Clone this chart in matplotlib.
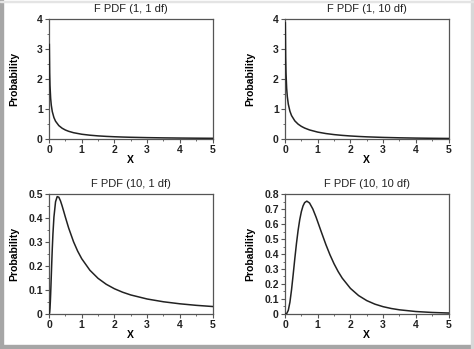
import matplotlib
matplotlib.use("Agg")
import matplotlib.pyplot as plt
from matplotlib.patches import Rectangle
from matplotlib.ticker import MultipleLocator

INK = "#222222"
FRAME = "#555555"
plt.rcParams.update({"font.family": "Liberation Sans", "font.size": 7,
                     "axes.edgecolor": FRAME, "text.color": INK,
                     "xtick.color": FRAME, "ytick.color": FRAME,
                     "xtick.labelcolor": INK, "ytick.labelcolor": INK})

# F pdf values
x_1_1 = [0.01, 0.02, 0.03, 0.05, 0.07, 0.1, 0.15, 0.2, 0.3, 0.4, 0.5, 0.6, 0.75,
         1, 1.25, 1.5, 1.75, 2, 2.25, 2.5, 3, 3.5, 4, 4.5, 5]
y_1_1 = [3.152, 2.207, 1.784, 1.356, 1.124, 0.915, 0.715, 0.593, 0.447, 0.360,
         0.300, 0.257, 0.210, 0.159, 0.127, 0.104, 0.0875, 0.075, 0.0653,
         0.0575, 0.0459, 0.0378, 0.0318, 0.0273, 0.0237]

x_1_10 = [0.01, 0.02, 0.03, 0.05, 0.07, 0.1, 0.15, 0.2, 0.3, 0.4, 0.5, 0.6, 0.75,
          1, 1.25, 1.5, 1.75, 2, 2.25, 2.5, 3, 3.5, 4, 4.5, 5]
y_1_10 = [3.870, 2.721, 2.210, 1.693, 1.415, 1.165, 0.926, 0.780, 0.604, 0.496,
          0.421, 0.365, 0.302, 0.230, 0.182, 0.147, 0.121, 0.101, 0.0850,
          0.0721, 0.0531, 0.0399, 0.0306, 0.0238, 0.0187]

x_10_1 = [0, 0.01, 0.02, 0.03, 0.04, 0.05, 0.06, 0.07, 0.08, 0.09, 0.1, 0.12,
          0.15, 0.2, 0.25, 0.3, 0.35, 0.4, 0.45, 0.5, 0.6, 0.75, 0.875, 1,
          1.25, 1.5, 1.75, 2, 2.25, 2.5, 3, 3.5, 4, 4.5, 5]
y_10_1 = [0, 0.0007, 0.0072, 0.0235, 0.0495, 0.0827, 0.1202, 0.1596, 0.1988,
          0.2365, 0.2719, 0.3338, 0.4034, 0.4678, 0.4892, 0.4867, 0.4717,
          0.4508, 0.4275, 0.4038, 0.3586, 0.3010, 0.2622, 0.2304, 0.1823,
          0.1485, 0.1238, 0.1052, 0.0908, 0.0793, 0.0625, 0.0509, 0.0425,
          0.0361, 0.0312]

x_10_10 = [0, 0.05, 0.1, 0.15, 0.2, 0.25, 0.3, 0.35, 0.4, 0.45, 0.5, 0.55, 0.6,
           0.667, 0.75, 0.85, 0.95, 1.1, 1.25, 1.375, 1.5, 1.625, 1.75, 2, 2.25,
           2.5, 2.75, 3, 3.25, 3.5, 4, 4.5, 5]
y_10_10 = [0, 0.0024, 0.0243, 0.0788, 0.1628, 0.2642, 0.3702, 0.4702, 0.5576,
           0.6288, 0.6828, 0.7202, 0.7426, 0.7525, 0.7400, 0.7003, 0.6455,
           0.5530, 0.4625, 0.3944, 0.3344, 0.2828, 0.2389, 0.1707, 0.1228,
           0.0892, 0.0655, 0.0487, 0.0366, 0.0278, 0.0165, 0.0102, 0.0065]

panels = [
    ("F PDF (1, 1 df)", x_1_1, y_1_1, 4, 1),
    ("F PDF (1, 10 df)", x_1_10, y_1_10, 4, 1),
    ("F PDF (10, 1 df)", x_10_1, y_10_1, 0.5, 0.1),
    ("F PDF (10, 10 df)", x_10_10, y_10_10, 0.8, 0.1),
]
boxes = [(0.1034, 0.6017), (0.6013, 0.6017), (0.1034, 0.1003), (0.6013, 0.1003)]

fig = plt.figure(figsize=(4.74, 3.49), dpi=100)
for (title, xs, ys, ytop, ystep), (l, b) in zip(panels, boxes):
    ax = fig.add_axes([l, b, 0.345, 0.3438])
    ax.plot(xs, ys, color=INK, lw=1.1, zorder=3)
    ax.set_xlim(0, 5)
    ax.set_ylim(0, ytop)
    ax.xaxis.set_major_locator(MultipleLocator(1))
    ax.xaxis.set_minor_locator(MultipleLocator(0.5))
    ax.yaxis.set_major_locator(MultipleLocator(ystep))
    ax.yaxis.set_minor_locator(MultipleLocator(ystep / 2))
    ax.yaxis.set_major_formatter(plt.FuncFormatter(lambda v, p: f"{v:g}"))
    ax.tick_params(which="major", length=3, width=0.8, pad=1.5, labelsize=7.5)
    ax.tick_params(which="minor", length=1.5, width=0.6)
    for lab in ax.get_xticklabels() + ax.get_yticklabels():
        lab.set_fontweight("bold")
    for sp in ax.spines.values():
        sp.set_linewidth(0.9)
    ax.set_title(title, fontsize=8, pad=5)
    ax.set_xlabel("X", fontsize=7.5, fontweight="bold", labelpad=0)
    ax.set_ylabel("Probability", fontsize=7.5, fontweight="bold")
    ax.yaxis.set_label_coords(-0.18, 0.5)

# gray frame around the picture
fig.patches.append(Rectangle((0, 0), 3 / 474, 1, transform=fig.transFigure,
                             color="#a6a6a6", zorder=0))
fig.patches.append(Rectangle((0, 0), 1, 4 / 349, transform=fig.transFigure,
                             color="#a6a6a6", zorder=0))
fig.patches.append(Rectangle((471 / 474, 0), 1.5 / 474, 1, transform=fig.transFigure,
                             color="#d8d8d8", zorder=0))
fig.patches.append(Rectangle((0, 347 / 349), 1, 1.2 / 349, transform=fig.transFigure,
                             color="#e4e4e4", zorder=0))

fig.savefig("out.png", dpi=100)
